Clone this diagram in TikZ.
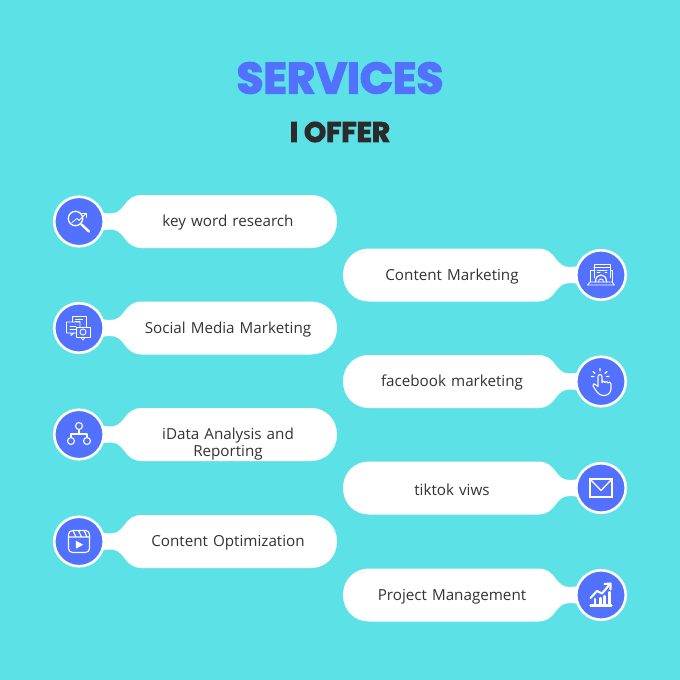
\documentclass[tikz,border=0pt]{standalone}
\usepackage{fontspec}
\setmainfont{Open Sans}
\newfontfamily\titlefont[FakeBold=3.6]{Poppins Bold}
\definecolor{bgc}{HTML}{5CE1E6}
\definecolor{bluec}{HTML}{5271FF}
\definecolor{inkc}{HTML}{333333}
\definecolor{darkc}{HTML}{2B2B2B}
\tikzset{
  pillshape/.style={fill=white,draw=none},
  disc/.style={circle,fill=bluec,draw=white,line width=2.6pt,minimum size=49.5pt,inner sep=0pt},
  label text/.style={text=inkc,font=\fontsize{15.2pt}{16.5pt}\selectfont,align=center,text width=205pt,inner sep=0pt},
  ico/.style={draw=white,line width=.85pt,line cap=round,line join=round,fill=none},
  icob/.style={draw=white,line width=2.1pt,line cap=round,line join=round,fill=none},
}
% [#1 label y offset], #2 name, #3 mirrored x scale, #4 circle x, #5 y, #6 label x, #7 text
\newcommand{\svcrow}[7][1.4]{%
  \begin{scope}[shift={(#4,#5)},xscale=#3]
    \path[pillshape] (0,0) circle (10)
      (14,-10) .. controls (20,-10) and (24,-8) .. (31,-8) .. controls (38,-8) and (41,-11) .. (45,-16)
      .. controls (49,-22) and (54,-26.5) .. (63,-26.5) -- (232,-26.5)
      .. controls (247,-26.5) and (258,-15) .. (258,0)
      .. controls (258,15) and (247,26.5) .. (232,26.5) -- (63,26.5)
      .. controls (54,26.5) and (49,22) .. (45,16)
      .. controls (41,11) and (38,8) .. (31,8) .. controls (24,8) and (20,10) .. (14,10) -- cycle;
  \end{scope}
  \node[disc] (#2c) at (#4,#5) {};
  \path (#6,#5) ++(0,#1) node[label text] (#2t) {#7};
}
\begin{document}
\begin{tikzpicture}[x=1pt,y=-1pt]
\useasboundingbox (0,0) rectangle (680,680);
\fill[bgc] (0,0) rectangle (680,680);
\node[text=bluec,font=\titlefont\fontsize{43.5pt}{43.5pt}\selectfont,inner sep=0pt] (title) at (340,78) {SERVICES};
\node[text=darkc,font=\titlefont\fontsize{28pt}{28pt}\selectfont,inner sep=0pt] (sub) at (340,132) {I OFFER};

\svcrow{a}{1}{79}{221.5}{228}{key word research}
\svcrow{b}{-1}{601}{275}{452}{Content Marketing}
\svcrow{c}{1}{79}{328}{228}{Social Media Marketing}
\svcrow{d}{-1}{601}{381.5}{452}{facebook marketing}
\svcrow[9.6]{e}{1}{79}{434.5}{228}{iData Analysis and\\Reporting}
\svcrow{f}{-1}{601}{488}{452}{tiktok viws}
\svcrow{g}{1}{79}{541.5}{228}{Content Optimization}
\svcrow{h}{-1}{601}{595}{452}{Project Management}

% magnifier
\begin{scope}[shift={(79,221.5)}]
  \draw[ico,line width=1.3pt] (-3.5,-3) circle (7.2);
  \draw[icob,line width=2.4pt] (2.5,3) -- (10,10);
  \draw[ico] (-7,1) -- (-2,-3) -- (0,-1) -- (7,-8);
  \draw[ico] (3,-8) -- (7,-8) -- (7,-4);
\end{scope}
% chat windows
\begin{scope}[shift={(79,328)}]
  \draw[ico,fill=bluec] (-6.5,-12) rectangle (7,0);
  \draw[ico] (-3.5,-9) -- (3.5,-9) (-3.5,-6.5) -- (1,-6.5);
  \draw[ico,fill=bluec] (-12.5,-6) rectangle (1,5) (-8,5) -- (-8,7.5) -- (-5,5);
  \draw[ico] (-9,-2) -- (-3,-2) (-9,1) -- (-3,1);
  \draw[ico,fill=bluec] (-3,-1) rectangle (11,9.5);
  \draw[ico] (4,4) circle (3);
  \draw[ico] (2,9.5) -- (4,12) -- (6,9.5);
\end{scope}
% hierarchy
\begin{scope}[shift={(79,434.5)}]
  \draw[ico,line width=1.1pt] (0,-8.5) circle (3.5) (-8,6.5) circle (3.5) (8,6.5) circle (3.5);
  \draw[ico,line width=1.1pt] (0,-5) -- (0,-.5) (-8,3) -- (-8,-.5) -- (8,-.5) -- (8,3);
\end{scope}
% reels
\begin{scope}[shift={(79,541.5)}]
  \draw[ico,line width=1.1pt,rounded corners=4pt] (-10.5,-11) rectangle (10.5,11);
  \draw[ico,line width=1.1pt] (-10.5,-4.5) -- (10.5,-4.5) (-6,-11) -- (-3,-4.5) (-.5,-11) -- (2.5,-4.5) (5,-11) -- (8,-4.5);
  \fill[white] (-3.2,-.8) -- (4.2,3.2) -- (-3.2,7.2) -- cycle;
\end{scope}
% laptop
\begin{scope}[shift={(601,275)}]
  \draw[ico] (-13.5,10) -- (13.5,10) -- (11,7) -- (-11,7) -- cycle;
  \draw[ico] (-11,7) -- (-11,-5) -- (-7,-5) (7,-5) -- (11,-5) -- (11,7);
  \draw[ico,fill=bluec] (-7,3) -- (-7,-11) -- (9,-11) -- (9,3);
  \draw[ico] (-7,-7.5) -- (9,-7.5) (-4,-5) -- (6,-5) (-4,-2.5) -- (-1,-2.5) (4,-2.5) -- (6,-2.5);
  \draw[ico,line width=1.2pt] (-5.5,7) .. controls (-5.5,2) and (-3,0) .. (0,0) .. controls (3,0) and (5.5,2) .. (5.5,7);
  \draw[ico] (-2.5,7) .. controls (-2.5,5) and (-1.5,4) .. (0,4) .. controls (1.5,4) and (2.5,5) .. (2.5,7);
\end{scope}
% tapping hand
\begin{scope}[shift={(601,381.5)}]
  \draw[ico,line width=1.1pt] (-3,5) -- (-3,-5) .. controls (-3,-7.5) and (1,-7.5) .. (1,-5) -- (1,1)
    .. controls (1,-1) and (4,-1) .. (4,1) .. controls (4,-.5) and (7,-.5) .. (7,1.5)
    .. controls (7,0) and (10,0) .. (10,2.5) -- (10,7) .. controls (10,11) and (7,14) .. (3,14)
    .. controls (-1,14) and (-3,12) .. (-5,9) -- (-8,4.5) .. controls (-9,2) and (-6,1.5) .. (-5,3.5) -- cycle;
  \draw[ico,line width=1.1pt] (-1,-13) -- (-1,-10.5) (-8,-10) -- (-6,-8) (6,-10) -- (4,-8) (-9.5,-5) -- (-7,-5) (8,-5) -- (5.5,-5);
\end{scope}
% envelope
\begin{scope}[shift={(601,488)}]
  \draw[ico,line width=1.3pt,line cap=butt,line join=miter] (-11,-9) rectangle (11,9);
  \draw[ico,line width=1.3pt] (-11,-9) -- (0,2.5) -- (11,-9);
\end{scope}
% growth chart
\begin{scope}[shift={(601,595)}]
  \draw[icob] (-10.5,10.5) -- (10.5,10.5);
  \draw[icob] (-6,9) -- (-6,4) (-.5,9) -- (-.5,3) (3.5,9) -- (3.5,1) (8.5,9) -- (8.5,-3);
  \draw[icob] (-10.5,3) -- (-4,-4) -- (1,-1.5) -- (9,-11);
  \draw[icob] (3.5,-11) -- (9.5,-11.5) -- (9.5,-5.5);
\end{scope}
\end{tikzpicture}
\end{document}
